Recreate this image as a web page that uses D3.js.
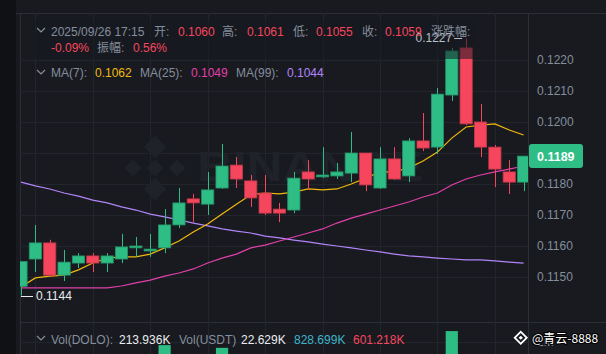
<!DOCTYPE html>
<html>
<head>
<meta charset="utf-8">
<script src="https://cdn.jsdelivr.net/npm/d3@7"></script>
<style>
  html, body { margin: 0; padding: 0; background: #181a20; }
  svg { display: block; }
  text { font-family: "Liberation Sans", Arial, "Noto Sans CJK SC", sans-serif; }
</style>
</head>
<body>
<div id="chart"></div>
<script>
// candle data (36 x 15m candles)
const opens  = [0.11470, 0.11558, 0.11610, 0.11506, 0.11545, 0.11568, 0.11545, 0.11558, 0.11594, 0.11584, 0.11594, 0.11668, 0.11752, 0.11735, 0.11787, 0.11861, 0.11810, 0.11771, 0.11719, 0.11716, 0.11839, 0.11823, 0.11826, 0.11835, 0.11900, 0.11787, 0.11881, 0.11826, 0.11939, 0.11919, 0.12087, 0.12239, 0.12000, 0.11919, 0.11839, 0.11806];
const highs  = [0.11550, 0.11668, 0.11620, 0.11587, 0.11577, 0.11577, 0.11577, 0.11639, 0.11629, 0.11639, 0.11719, 0.11787, 0.11768, 0.11839, 0.11929, 0.11887, 0.11829, 0.11829, 0.11739, 0.11839, 0.11877, 0.11919, 0.11868, 0.11968, 0.11900, 0.11919, 0.11919, 0.11948, 0.12029, 0.12110, 0.12239, 0.12270, 0.12058, 0.11926, 0.11877, 0.11890];
const lows   = [0.11440, 0.11516, 0.11500, 0.11487, 0.11529, 0.11516, 0.11516, 0.11545, 0.11565, 0.11565, 0.11577, 0.11658, 0.11677, 0.11700, 0.11784, 0.11787, 0.11726, 0.11700, 0.11677, 0.11706, 0.11781, 0.11819, 0.11816, 0.11806, 0.11777, 0.11784, 0.11813, 0.11806, 0.11906, 0.11897, 0.12068, 0.11990, 0.11887, 0.11790, 0.11768, 0.11777];
const closes = [0.11550, 0.11610, 0.11506, 0.11548, 0.11568, 0.11545, 0.11568, 0.11597, 0.11600, 0.11590, 0.11668, 0.11739, 0.11739, 0.11781, 0.11858, 0.11816, 0.11755, 0.11706, 0.11706, 0.11819, 0.11816, 0.11829, 0.11839, 0.11900, 0.11797, 0.11881, 0.11816, 0.11939, 0.11916, 0.12090, 0.12229, 0.11994, 0.11919, 0.11848, 0.11806, 0.11890];
const volumes = [0.9e6, 1.2e6, 1.3e6, 0.8e6, 0.5e6, 0.6e6, 0.5e6, 0.9e6, 0.4e6, 0.5e6, 1.92e6, 1.4e6, 0.6e6, 1.1e6, 1.85e6, 0.9e6, 0.8e6, 1.0e6, 0.5e6, 1.3e6, 0.7e6, 0.6e6, 0.4e6, 1.2e6, 1.1e6, 0.9e6, 0.8e6, 1.3e6, 0.7e6, 1.5e6, 2.28e6, 1.6e6, 1.0e6, 0.8e6, 0.6e6, 0.7e6];

// moving averages as drawn
const ma7  = [0.11468, 0.11497, 0.11503, 0.11506, 0.11523, 0.11545, 0.11561, 0.11565, 0.11565, 0.11574, 0.11594, 0.11616, 0.11645, 0.11671, 0.11703, 0.11735, 0.11765, 0.11771, 0.11768, 0.11774, 0.11784, 0.11781, 0.11784, 0.11800, 0.11819, 0.11839, 0.11839, 0.11852, 0.11874, 0.11903, 0.11948, 0.11984, 0.11990, 0.11994, 0.11974, 0.11958];
const ma25 = [0.11465, 0.11465, 0.11465, 0.11465, 0.11465, 0.11465, 0.11465, 0.11471, 0.11481, 0.11490, 0.11503, 0.11513, 0.11526, 0.11545, 0.11561, 0.11574, 0.11594, 0.11603, 0.11616, 0.11629, 0.11642, 0.11655, 0.11674, 0.11690, 0.11703, 0.11716, 0.11729, 0.11742, 0.11758, 0.11771, 0.11797, 0.11816, 0.11829, 0.11839, 0.11848, 0.11858];
const ma99 = [0.11806, 0.11794, 0.11784, 0.11771, 0.11761, 0.11748, 0.11739, 0.11726, 0.11716, 0.11703, 0.11694, 0.11684, 0.11674, 0.11665, 0.11655, 0.11648, 0.11642, 0.11632, 0.11626, 0.11619, 0.11613, 0.11606, 0.11600, 0.11594, 0.11587, 0.11581, 0.11574, 0.11568, 0.11565, 0.11561, 0.11558, 0.11555, 0.11555, 0.11552, 0.11548, 0.11545];

const priceTicks = [0.1150, 0.1160, 0.1170, 0.1180, 0.1190, 0.1200, 0.1210, 0.1220];
const volTicks = [2e6];
const gridCandles = [1, 5, 9, 13, 17, 21, 25, 29, 33];
const lastPrice = 0.1189;

const W = 606, H = 354;
const plotL = 20, plotR = 528, plotT = 13, paneSplit = 322;
const UP = "#2ebd85", DOWN = "#f6465d", BG = "#181a20";
const GRID = "#22252c", BORDER = "#2b2f36", LABEL = "#848e9c";

const candles = opens.map((o, i) => ({
  i, o, h: highs[i], l: lows[i], c: closes[i], v: volumes[i]
}));

const x = d3.scaleLinear().domain([0, candles.length - 1]).range([21, 523.6]);
const cw = (x(1) - x(0)) * 0.85;
const y = d3.scaleLinear().domain([0.1150, 0.1220]).range([277, 60]);
const yv = d3.scaleLinear().domain([0, 2e6]).range([420, 342]);

const svg = d3.select("#chart").append("svg")
  .attr("width", W).attr("height", H);

svg.append("rect").attr("width", W).attr("height", H).attr("fill", BG);

const defs = svg.append("defs");
defs.append("clipPath").attr("id", "clip-price")
  .append("rect").attr("x", plotL).attr("y", plotT)
  .attr("width", plotR - plotL).attr("height", paneSplit - plotT);
defs.append("clipPath").attr("id", "clip-vol")
  .append("rect").attr("x", plotL).attr("y", paneSplit)
  .attr("width", plotR - plotL).attr("height", H - paneSplit);

// frame
svg.append("rect").attr("x", 0).attr("y", 0).attr("width", 16).attr("height", H).attr("fill", "#0f1114");
svg.append("line").attr("x1", 16).attr("x2", W).attr("y1", plotT + 0.5).attr("y2", plotT + 0.5).attr("stroke", BORDER);
svg.append("line").attr("x1", plotL + 0.5).attr("x2", plotL + 0.5).attr("y1", plotT).attr("y2", H).attr("stroke", BORDER);
svg.append("line").attr("x1", plotR + 0.5).attr("x2", plotR + 0.5).attr("y1", plotT).attr("y2", H).attr("stroke", BORDER);
svg.append("line").attr("x1", plotL).attr("x2", W).attr("y1", paneSplit + 0.5).attr("y2", paneSplit + 0.5).attr("stroke", BORDER);

// grid
const grid = svg.append("g");
grid.selectAll(".vg").data(gridCandles).enter().append("line")
  .attr("x1", (d) => Math.round(x(d)) + 0.5).attr("x2", (d) => Math.round(x(d)) + 0.5)
  .attr("y1", plotT).attr("y2", H).attr("stroke", GRID);
grid.selectAll(".hg").data(priceTicks).enter().append("line")
  .attr("x1", plotL).attr("x2", plotR)
  .attr("y1", (d) => Math.round(y(d)) + 0.5).attr("y2", (d) => Math.round(y(d)) + 0.5)
  .attr("stroke", GRID);
grid.selectAll(".vgh").data(volTicks).enter().append("line")
  .attr("x1", plotL).attr("x2", plotR)
  .attr("y1", (d) => Math.round(yv(d)) + 0.5).attr("y2", (d) => Math.round(yv(d)) + 0.5)
  .attr("stroke", GRID);

// BINANCE watermark
const wm = svg.append("g").attr("fill", "#1f2228");
const logo = [[155, 147, 8], [133, 168, 6], [177, 168, 6], [155, 168, 6], [155, 189, 8]];
wm.selectAll("rect").data(logo).enter().append("rect")
  .attr("x", (d) => d[0] - d[2]).attr("y", (d) => d[1] - d[2])
  .attr("width", (d) => d[2] * 2).attr("height", (d) => d[2] * 2)
  .attr("transform", (d) => `rotate(45,${d[0]},${d[1]})`);
wm.append("text").attr("x", 197).attr("y", 181)
  .attr("textLength", 226).attr("lengthAdjust", "spacingAndGlyphs")
  .style("font-size", "42px").style("font-weight", "bold").text("BINANCE");

// price pane
const price = svg.append("g").attr("clip-path", "url(#clip-price)");

const maLine = (vals) => d3.line().x((d, i) => x(i)).y((d) => y(d))(vals);
[[ma99, "#b185f8"], [ma25, "#e040a8"], [ma7, "#f0b90b"]].forEach(([vals, col]) => {
  price.append("path").attr("d", maLine(vals)).attr("fill", "none")
    .attr("stroke", col).attr("stroke-width", 1.2);
});

const cg = price.selectAll(".candle").data(candles).enter().append("g");
cg.append("line")
  .attr("x1", (d) => Math.round(x(d.i)) + 0.5).attr("x2", (d) => Math.round(x(d.i)) + 0.5)
  .attr("y1", (d) => y(d.h)).attr("y2", (d) => y(d.l))
  .attr("stroke", (d) => (d.c >= d.o ? UP : DOWN));
cg.append("rect")
  .attr("x", (d) => x(d.i) - cw / 2)
  .attr("y", (d) => y(Math.max(d.o, d.c)))
  .attr("width", cw)
  .attr("height", (d) => Math.max(1.5, Math.abs(y(d.o) - y(d.c))))
  .attr("fill", (d) => (d.c >= d.o ? UP : DOWN))
  .attr("stroke", (d) => d3.color(d.c >= d.o ? UP : DOWN).darker(0.7))
  .attr("stroke-width", 0.8);

// volume pane
svg.append("g").attr("clip-path", "url(#clip-vol)")
  .selectAll("rect").data(candles).enter().append("rect")
  .attr("x", (d) => x(d.i) - cw / 2)
  .attr("y", (d) => yv(d.v))
  .attr("width", cw)
  .attr("height", (d) => yv(0) - yv(d.v))
  .attr("fill", (d) => (d.c >= d.o ? UP : DOWN));

// header backdrop over candles
svg.append("rect").attr("x", 34).attr("y", 20).attr("width", 440).attr("height", 39)
  .attr("fill", BG).attr("opacity", 0.55);

// high / low markers
const hiC = candles.reduce((a, b) => (b.h > a.h ? b : a));
const loC = candles.reduce((a, b) => (b.l < a.l ? b : a));
svg.append("line").attr("x1", x(hiC.i) - 12).attr("x2", x(hiC.i) - 4)
  .attr("y1", Math.round(y(hiC.h)) + 0.5).attr("y2", Math.round(y(hiC.h)) + 0.5).attr("stroke", "#b7bdc6");
svg.append("text").attr("x", x(hiC.i) - 14).attr("y", y(hiC.h) + 4)
  .attr("text-anchor", "end").attr("fill", "#b7bdc6").style("font-size", "12px")
  .text(d3.format(".4f")(hiC.h));
svg.append("line").attr("x1", plotL + 1).attr("x2", plotL + 13)
  .attr("y1", Math.round(y(loC.l)) + 0.5).attr("y2", Math.round(y(loC.l)) + 0.5).attr("stroke", "#eaecef");
svg.append("text").attr("x", plotL + 16).attr("y", y(loC.l) + 4.5)
  .attr("fill", "#eaecef").style("font-size", "12px")
  .text(d3.format(".4f")(loC.l));

// right axes (labels hidden under the last-price tag are dropped)
const shownTicks = priceTicks.filter((t) => Math.abs(y(t) - y(lastPrice)) > 12);
const axisP = svg.append("g").attr("transform", `translate(${plotR},0)`)
  .call(d3.axisRight(y).tickValues(shownTicks).tickSize(0).tickPadding(9).tickFormat(d3.format(".4f")));
const axisV = svg.append("g").attr("transform", `translate(${plotR},0)`)
  .call(d3.axisRight(yv).tickValues(volTicks).tickSize(0).tickPadding(9).tickFormat((d) => d / 1e6 + "M"));
[axisP, axisV].forEach((a) => {
  a.select(".domain").remove();
  a.selectAll("text").attr("fill", LABEL).style("font-size", "12px")
    .style("font-family", '"Liberation Sans", Arial, sans-serif');
});

// last price tag
svg.append("rect").attr("x", 529).attr("y", y(lastPrice) - 12).attr("width", 54).attr("height", 24)
  .attr("rx", 3).attr("fill", UP);
svg.append("text").attr("x", 537).attr("y", y(lastPrice) + 4.5)
  .attr("fill", "#ffffff").style("font-size", "12.5px").style("font-weight", "bold")
  .text(d3.format(".4f")(lastPrice));

// legends
const chevron = (cy) => svg.append("path")
  .attr("d", `M37,${cy - 2} l4,4 l4,-4`).attr("fill", "none")
  .attr("stroke", LABEL).attr("stroke-width", 1.2);
const label = (tx, ty, str, col) => svg.append("text").attr("x", tx).attr("y", ty)
  .attr("fill", col).style("font-size", "12px").text(str);

chevron(30);
[[51, "2025/09/26 17:15", LABEL], [154, "开:", LABEL], [178, "0.1060", DOWN],
 [222, "高:", LABEL], [247, "0.1061", DOWN], [293, "低:", LABEL], [316, "0.1055", DOWN],
 [362, "收:", LABEL], [385, "0.1059", DOWN], [431, "涨跌幅:", LABEL]]
  .forEach(([tx, s, c]) => label(tx, 36, s, c));
[[51, "-0.09%", DOWN], [97, "振幅:", LABEL], [133, "0.56%", DOWN]]
  .forEach(([tx, s, c]) => label(tx, 52, s, c));

chevron(72);
[[51, "MA(7):", LABEL], [95, "0.1062", "#f0b90b"], [140, "MA(25):", LABEL], [191, "0.1049", "#e040a8"],
 [236, "MA(99):", LABEL], [287, "0.1044", "#b185f8"]]
  .forEach(([tx, s, c]) => label(tx, 77, s, c));

chevron(338);
[[51, "Vol(DOLO):", LABEL], [119, "213.936K", "#eaecef"], [179, "Vol(USDT)", LABEL],
 [241, "22.629K", "#eaecef"], [294, "828.699K", "#3db5c9"], [353, "601.218K", DOWN]]
  .forEach(([tx, s, c]) => label(tx, 344, s, c));

// user watermark
const um = svg.append("g");
um.append("rect").attr("x", 516.5).attr("y", 333.5).attr("width", 8.5).attr("height", 8.5)
  .attr("transform", "rotate(45,520.75,337.75)").attr("fill", "none").attr("stroke", "#ffffff").attr("stroke-width", 1.8);
um.append("rect").attr("x", 519.25).attr("y", 336.25).attr("width", 3).attr("height", 3)
  .attr("transform", "rotate(45,520.75,337.75)").attr("fill", "#ffffff");
um.append("text").attr("x", 532).attr("y", 343)
  .attr("fill", "#ffffff").attr("stroke", "#000000").attr("stroke-width", 2).attr("paint-order", "stroke")
  .style("font-size", "12px").style("font-family", '"Noto Sans CJK SC", sans-serif')
  .text("@青云-8888");
</script>
</body>
</html>
